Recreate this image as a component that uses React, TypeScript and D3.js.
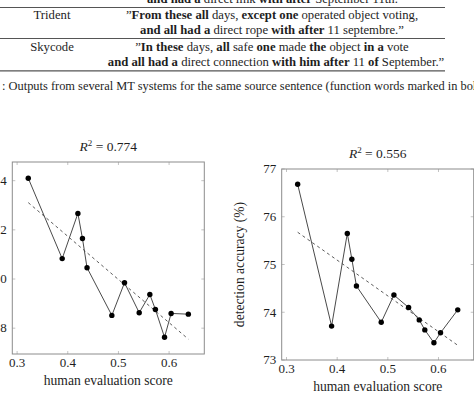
import React from 'react';
import * as d3 from 'd3';

// ---- data ----
const X_SCORES = [0.322, 0.389, 0.42, 0.429, 0.438, 0.487, 0.512, 0.541, 0.562, 0.573, 0.591, 0.604, 0.638];
const LEFT_VALUES = [75.41, 75.083, 75.267, 75.165, 75.046, 74.852, 74.985, 74.863, 74.937, 74.876, 74.763, 74.86, 74.857];
const RIGHT_VALUES = [76.68, 73.71, 75.65, 75.11, 74.55, 73.79, 74.36, 74.1, 73.84, 73.63, 73.36, 73.57, 74.05];
const X_TICKS = [0.3, 0.4, 0.5, 0.6];
const LEFT_Y_TICKS = [74.8, 75.0, 75.2, 75.4];
const RIGHT_Y_TICKS = [73, 74, 75, 76, 77];
const X_DOMAIN: [number, number] = [0.2905, 0.6695];
const LEFT_Y_DOMAIN: [number, number] = [74.695, 75.476];
const RIGHT_Y_DOMAIN: [number, number] = [73, 77];
const R2_LABELS = ['0.774', '0.556'];
const X_LABEL = 'human evaluation score';
const RIGHT_Y_LABEL = 'detection accuracy (%)';

type Seg = [string, boolean];
const PARTIAL_LINE: Seg[] = [['and had a', true], [' direct link ', false], ['with after', true], [' September 11th.', false]];
const SYSTEMS = ['Trident', 'Skycode'];
const TRIDENT_LINES: Seg[][] = [
  [['\u201D', false], ['From these all', true], [' days, ', false], ['except one', true], [' operated object voting,', false]],
  [['and all had a', true], [' direct rope ', false], ['with after', true], [' 11 septembre.\u201D', false]],
];
const SKYCODE_LINES: Seg[][] = [
  [['\u201D', false], ['In these', true], [' days, ', false], ['all', true], [' safe ', false], ['one', true], [' made ', false], ['the', true], [' object ', false], ['in a', true], [' vote', false]],
  [['and all had a', true], [' direct connection ', false], ['with him after', true], [' 11 ', false], ['of', true], [' September.\u201D', false]],
];
const CAPTION = ': Outputs from several MT systems for the same source sentence (function words marked in bold).';

const SERIF = '"Liberation Serif", "Times New Roman", serif';
const TXT = '#1e1e1e';
const TABLE_FS = 12.7;

function Line({ segs, x, y, anchor = 'middle' }: { segs: Seg[]; x: number; y: number; anchor?: string }) {
  return (
    <text x={x} y={y} textAnchor={anchor as any} fontFamily={SERIF} fontSize={TABLE_FS} fill={TXT} style={{ whiteSpace: 'pre' }}>
      {segs.map((s, i) => (
        <tspan key={i} fontWeight={s[1] ? 'bold' : 'normal'}>{s[0]}</tspan>
      ))}
    </text>
  );
}

function regression(xs: number[], ys: number[]) {
  const mx = d3.mean(xs)!;
  const my = d3.mean(ys)!;
  let sxy = 0, sxx = 0;
  xs.forEach((x, i) => { sxy += (x - mx) * (ys[i] - my); sxx += (x - mx) * (x - mx); });
  const b = sxy / sxx;
  return (x: number) => my + b * (x - mx);
}

function Panel({ x0, y0, w, h, yDomain, yTicks, yFmt, values, r2, yLabel }: any) {
  const xs = d3.scaleLinear().domain(X_DOMAIN).range([x0, x0 + w]);
  const ys = d3.scaleLinear().domain(yDomain).range([y0 + h, y0]);
  const pts = X_SCORES.map((x, i) => [x, values[i]] as [number, number]);
  const path = d3.line<[number, number]>().x(d => xs(d[0])).y(d => ys(d[1]))(pts) || '';
  const f = regression(X_SCORES, values);
  const [xa, xb] = d3.extent(X_SCORES) as [number, number];
  const tickC = '#b4b4b4';
  const cx = x0 + w / 2;
  return (
    <g>
      {X_TICKS.map(t => (
        <g key={'x' + t}>
          <line x1={xs(t)} x2={xs(t)} y1={y0 + h} y2={y0 + h - 3} stroke={tickC} strokeWidth={0.8} />
          <line x1={xs(t)} x2={xs(t)} y1={y0} y2={y0 + 3} stroke={tickC} strokeWidth={0.8} />
          <text x={xs(t)} y={y0 + h + 12.5} textAnchor="middle" fontFamily={SERIF} fontSize={13} fill={TXT}>{t.toFixed(1)}</text>
        </g>
      ))}
      {yTicks.map((t: number) => (
        <g key={'y' + t}>
          <line x1={x0} x2={x0 + 3} y1={ys(t)} y2={ys(t)} stroke={tickC} strokeWidth={0.8} />
          <line x1={x0 + w} x2={x0 + w - 3} y1={ys(t)} y2={ys(t)} stroke={tickC} strokeWidth={0.8} />
          <text x={x0 - 5.5} y={ys(t) + 4.3} textAnchor="end" fontFamily={SERIF} fontSize={13} fill={TXT}>{yFmt(t)}</text>
        </g>
      ))}
      <rect x={x0} y={y0} width={w} height={h} fill="none" stroke="#8c8c8c" strokeWidth={1} />
      <line x1={xs(xa)} y1={ys(f(xa))} x2={xs(xb)} y2={ys(f(xb))} stroke="#4a4a4a" strokeWidth={0.9} strokeDasharray="3,3" />
      <path d={path} fill="none" stroke="#4a4a4a" strokeWidth={1} />
      {pts.map((d, i) => <circle key={i} cx={xs(d[0])} cy={ys(d[1])} r={2.7} fill="#000" />)}
      <text x={cx} y={y0 - 11} textAnchor="middle" fontFamily={SERIF} fontSize={13.5} fill={TXT}>
        <tspan fontStyle="italic">R</tspan>
        <tspan fontSize={9} dy={-5}>2</tspan>
        <tspan dy={5}>{' = ' + r2}</tspan>
      </text>
      <text x={cx} y={y0 + h + 30.5} textAnchor="middle" fontFamily={SERIF} fontSize={13.6} fill={TXT}>{X_LABEL}</text>
      {yLabel && (
        <text transform={`translate(${x0 - 37.5},${y0 + h / 2}) rotate(-90)`} textAnchor="middle" fontFamily={SERIF} fontSize={13.6} fill={TXT}>{yLabel}</text>
      )}
    </g>
  );
}

export default function App() {
  const ruleX2 = 445;
  return (
    <svg width={474} height={398} style={{ position: 'absolute', left: 0, top: 0, background: '#fff' }}>
      <rect width={474} height={398} fill="#fff" />
      <Line segs={PARTIAL_LINE} x={147} y={3} anchor="start" />
      <line x1={0} x2={ruleX2} y1={7.5} y2={7.5} stroke="#555" strokeWidth={1.2} />
      <text x={52} y={18.5} textAnchor="middle" fontFamily={SERIF} fontSize={TABLE_FS} fill={TXT}>{SYSTEMS[0]}</text>
      <Line segs={TRIDENT_LINES[0]} x={272} y={18.5} />
      <Line segs={TRIDENT_LINES[1]} x={272} y={33.5} />
      <line x1={0} x2={ruleX2} y1={38.5} y2={38.5} stroke="#555" strokeWidth={1.2} />
      <text x={52} y={51} textAnchor="middle" fontFamily={SERIF} fontSize={TABLE_FS} fill={TXT}>{SYSTEMS[1]}</text>
      <Line segs={SKYCODE_LINES[0]} x={272} y={51} />
      <Line segs={SKYCODE_LINES[1]} x={276} y={65.5} />
      <line x1={0} x2={ruleX2} y1={70.8} y2={70.8} stroke="#555" strokeWidth={1.2} />
      <text x={2} y={90} fontFamily={SERIF} fontSize={12.4} fill={TXT}>{CAPTION}</text>

      <Panel x0={12.3} y0={162} w={192} h={192} yDomain={LEFT_Y_DOMAIN} yTicks={LEFT_Y_TICKS}
        yFmt={(t: number) => t.toFixed(1)} values={LEFT_VALUES} r2={R2_LABELS[0]} />
      <Panel x0={281.7} y0={169} w={192} h={191} yDomain={RIGHT_Y_DOMAIN} yTicks={RIGHT_Y_TICKS}
        yFmt={(t: number) => String(t)} values={RIGHT_VALUES} r2={R2_LABELS[1]} yLabel={RIGHT_Y_LABEL} />
    </svg>
  );
}
